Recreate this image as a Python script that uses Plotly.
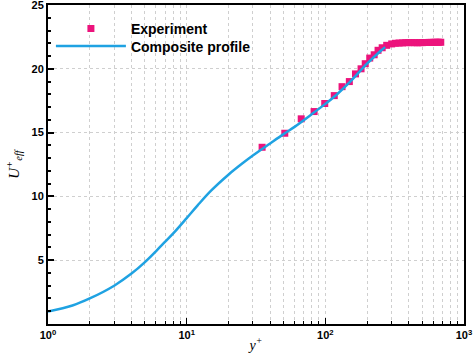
import plotly.graph_objects as go

# Composite profile
prof_y = [1, 1.5, 2, 3, 4, 5, 6, 7, 8, 10, 12, 15, 20, 25, 30, 40, 50, 60, 80, 100, 120, 150, 200, 250, 270]
prof_u = [0.97, 1.45, 2.0, 3.0, 3.95, 4.85, 5.7, 6.45, 7.1, 8.3, 9.3, 10.45, 11.7, 12.55, 13.2, 14.15,
          14.88, 15.45, 16.45, 17.25, 17.95, 18.95, 20.4, 21.4, 21.7]

# Experiment
exp_y = [35, 51, 67, 83, 99, 116, 132, 149, 165, 181, 194, 209, 225, 240, 257, 277, 301,
         320, 340, 360, 380, 400, 420, 440, 460, 480, 500, 520, 540, 560, 580, 600, 620, 640, 660, 680]
exp_u = [13.85, 14.95, 16.08, 16.65, 17.28, 17.9, 18.6, 19.0, 19.6, 20.0, 20.4, 20.84, 21.1, 21.45,
         21.65, 21.84, 21.95, 22.0, 22.02, 22.03, 22.05, 22.05, 22.05, 22.05, 22.04, 22.05, 22.05,
         22.06, 22.06, 22.07, 22.07, 22.07, 22.08, 22.08, 22.08, 22.08]

x_major = [1, 10, 100, 1000]
x_major_text = ["10<sup>0</sup>", "10<sup>1</sup>", "10<sup>2</sup>", "10<sup>3</sup>"]
x_minor = [m * d for d in (1, 10, 100) for m in range(2, 10)]
y_major = [5, 10, 15, 20, 25]

fig = go.Figure()
fig.add_trace(go.Scatter(x=exp_y, y=exp_u, mode="markers", name="Experiment", legend="legend",
                         marker=dict(symbol="square", size=7, color="#EC137C")))
fig.add_trace(go.Scatter(x=prof_y, y=prof_u, mode="lines", name="Composite profile", legend="legend2",
                         line=dict(color="#1FA2E2", width=2.5, shape="spline")))

grid_color = "#CFCFCF"
leg_font = dict(size=14, weight="bold", family="Liberation Sans", color="black")
fig.update_layout(
    width=474, height=357,
    margin=dict(l=48, r=10, t=5, b=33),
    paper_bgcolor="white", plot_bgcolor="white",
    font=dict(family="Liberation Sans", color="black"),
    showlegend=True,
    legend=dict(x=0.007, y=0.925, xanchor="left", yanchor="middle", bgcolor="rgba(0,0,0,0)",
                font=leg_font, itemwidth=70),
    legend2=dict(x=0.007, y=0.87, xanchor="left", yanchor="middle", bgcolor="rgba(0,0,0,0)",
                 font=leg_font, itemwidth=70),
    xaxis=dict(type="log", range=[0, 3], tickmode="array", tickvals=x_major, ticktext=x_major_text,
               automargin=False, ticklabeloverflow="allow",
               ticks="inside", ticklen=6, tickwidth=1, tickcolor="black",
               showline=True, linecolor="black", linewidth=2, mirror=True,
               showgrid=True, gridcolor=grid_color, griddash="dot", gridwidth=1,
               tickfont=dict(size=11, weight="bold"),
               minor=dict(tickmode="array", tickvals=x_minor, ticks="inside", ticklen=3,
                          tickcolor="black", showgrid=True, gridcolor=grid_color, griddash="dot"),
               zeroline=False,
               title=dict(text="y<sup>+</sup>", font=dict(family="Liberation Serif", size=14, style="italic"),
                          standoff=0)),
    yaxis=dict(range=[0, 25], tickmode="array", tickvals=y_major,
               automargin=False, ticklabeloverflow="allow",
               ticks="inside", ticklen=6, tickwidth=1.5, tickcolor="black",
               showline=True, linecolor="black", linewidth=2, mirror=True,
               showgrid=True, gridcolor=grid_color, griddash="dot", gridwidth=1,
               tickfont=dict(size=11, weight="bold"),
               minor=dict(dtick=1, ticks="inside", ticklen=3, tickcolor="black", showgrid=False),
               zeroline=False,
               title=dict(text="U<sup>+</sup><sub>eff</sub>", font=dict(family="Liberation Serif", size=15, style="italic"),
                          standoff=8)),
)
fig.write_html("out.html", config={"displayModeBar": False},
               post_script="document.body.style.margin='0';")
